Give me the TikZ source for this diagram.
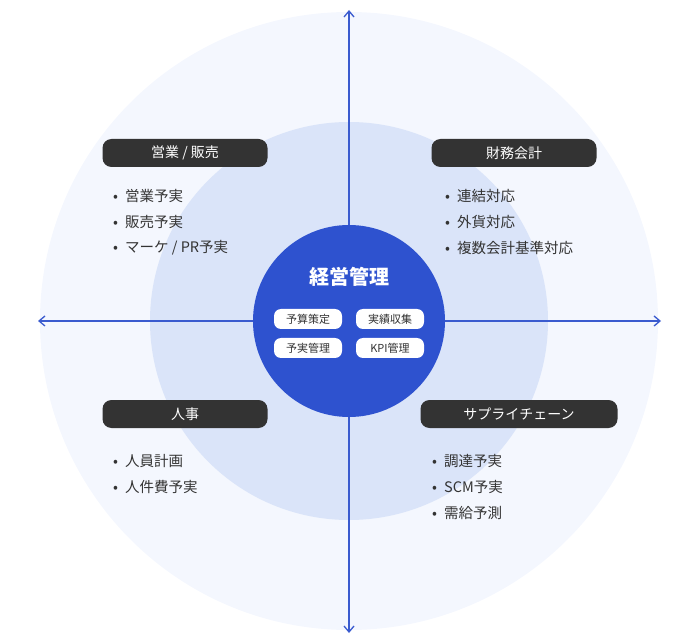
\documentclass[tikz,border=0pt]{standalone}
\usepackage{fontspec}
\setmainfont{Noto Sans CJK JP}
\usetikzlibrary{arrows.meta}
\definecolor{outerc}{HTML}{F4F7FE}
\definecolor{midc}{HTML}{DAE4F9}
\definecolor{innerc}{HTML}{2E52CF}
\definecolor{axisc}{HTML}{3A5BCF}
\definecolor{pillc}{HTML}{333333}
\definecolor{txtc}{HTML}{333333}
\tikzset{
  pill/.style={fill=pillc,rounded corners=9pt,minimum width=165pt,minimum height=28pt,text=white,font=\fontsize{14pt}{16pt}\selectfont,inner sep=0pt},
  minipill/.style={fill=white,rounded corners=7pt,minimum width=68pt,minimum height=20pt,text=txtc,font=\fontsize{11pt}{13pt}\selectfont,inner sep=0pt},
  item/.style={anchor=west,text=txtc,font=\fontsize{14.5pt}{17pt}\selectfont,inner sep=0pt},
  axis/.style={draw=axisc,line width=1.3pt,-{Straight Barb[length=6pt,width=10pt]}}
}
\begin{document}
\begin{tikzpicture}[x=1pt,y=-1pt]
\useasboundingbox (0,0) rectangle (683,636);
\fill[outerc] (349,321) circle (309);
\fill[midc] (349,321) circle (199);
\coordinate (c) at (349,321);
\coordinate (top) at (349,10);
\coordinate (bot) at (349,633);
\coordinate (lft) at (38,321);
\coordinate (rgt) at (661,321);
\draw[axis] (c) -- (top);
\draw[axis] (c) -- (bot);
\draw[axis] (c) -- (lft);
\draw[axis] (c) -- (rgt);
\fill[innerc] (c) circle (96);
\node[text=white,font=\bfseries\fontsize{20pt}{24pt}\selectfont] (title) at (349,277) {経営管理};
\node[minipill] (m1) at (308,319) {予算策定};
\node[minipill] (m2) at (390,319) {実績収集};
\node[minipill] (m3) at (308,348) {予実管理};
\node[minipill] (m4) at (390,348) {KPI管理};
\node[pill] (p1) at (185,153) {営業 / 販売};
\node[pill] (p2) at (514,153) {財務会計};
\node[pill] (p3) at (185,414) {人事};
\node[pill,minimum width=197pt] (p4) at (519,414) {サプライチェーン};
\foreach \t [count=\i] in {営業予実,販売予実,マーケ / PR予実}
  \node[item] (a\i) at (113,170+26*\i) {•\hspace{7pt}\t};
\foreach \t [count=\i] in {連結対応,外貨対応,複数会計基準対応}
  \node[item] (b\i) at (445,170+26*\i) {•\hspace{7pt}\t};
\foreach \t [count=\i] in {人員計画,人件費予実}
  \node[item] (d\i) at (113,435+26*\i) {•\hspace{7pt}\t};
\foreach \t [count=\i] in {調達予実,SCM予実,需給予測}
  \node[item] (e\i) at (432,435+26*\i) {•\hspace{7pt}\t};
\end{tikzpicture}
\end{document}
